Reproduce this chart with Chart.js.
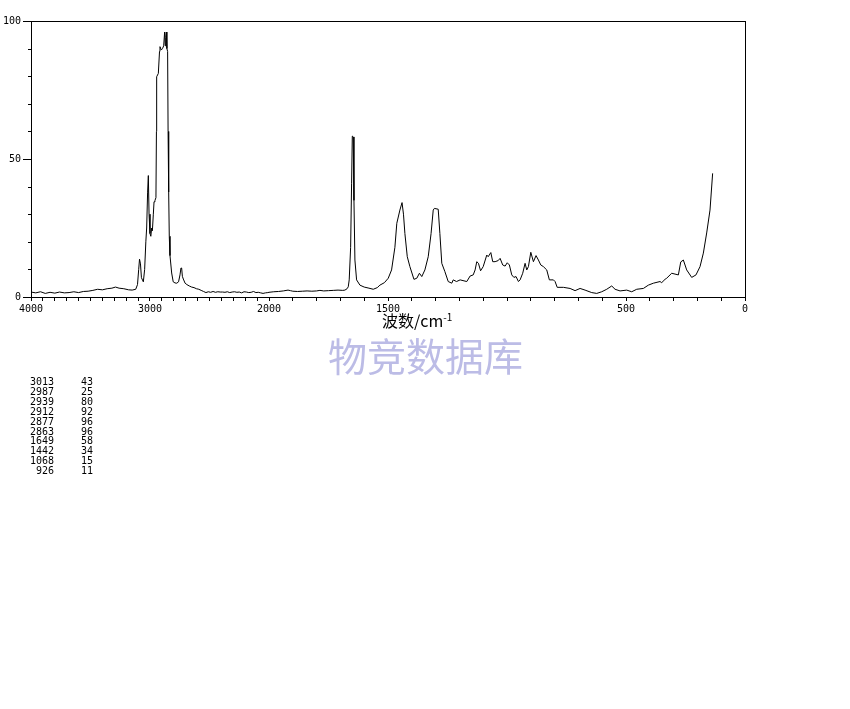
<!DOCTYPE html>
<html>
<head>
<meta charset="utf-8">
<title>Raman spectrum</title>
<script src="https://cdn.jsdelivr.net/npm/chart.js@4/dist/chart.umd.min.js"></script>
<style>
  body { margin: 0; background: #fff; }
  #wrap { position: relative; width: 850px; height: 709px; }
  #axis-title { position: absolute; left: 382px; top: 312px; font: 16px/16px "Noto Sans CJK SC", sans-serif; color: #000; white-space: nowrap; }
  #axis-title sup { font-size: 10px; vertical-align: 6px; line-height: 0; }
  #watermark { position: absolute; left: 328px; top: 334px; font: 39px/40px "Noto Sans CJK SC", sans-serif; color: #bcbce6; white-space: nowrap; }
  #peaks { position: absolute; left: 20px; top: 377px; font: 10px/9.9px "DejaVu Sans Mono", monospace; color: #000; }
  #peaks span { display: inline-block; text-align: right; }
  #peaks .w { width: 34px; }
  #peaks .v { width: 39px; }
</style>
</head>
<body>
<div id="wrap">
  <canvas id="spectrum" width="850" height="709"></canvas>
  <div id="axis-title">波数/cm<sup>-1</sup></div>
  <div id="watermark">物竞数据库</div>
  <div id="peaks"></div>
</div>
<script>
// wavenumbers (cm-1), high to low
const wavenumbers = [
  4000, 3960, 3920, 3880, 3840, 3800, 3760, 3720, 3680, 3640, 3600, 3560, 3520, 3480, 3440, 3400,
  3360, 3320, 3290, 3260, 3220, 3180, 3150, 3120, 3105, 3095, 3088, 3080, 3072, 3056, 3045, 3035,
  3028, 3020, 3014, 3008, 3000, 2993, 2986, 2980, 2972, 2966, 2958, 2950, 2946, 2944, 2930, 2920,
  2916, 2905, 2895, 2885, 2877, 2872, 2868, 2863, 2858, 2852, 2848, 2843, 2838, 2832, 2818, 2805,
  2790, 2775, 2760, 2748, 2740, 2734, 2728, 2720, 2705, 2690, 2670, 2650, 2630, 2610, 2590, 2570,
  2550, 2530, 2510, 2490, 2470, 2450, 2430, 2410, 2390, 2370, 2350, 2330, 2310, 2290, 2270, 2250,
  2230, 2210, 2190, 2170, 2150, 2130, 2110, 2090, 2070, 2050, 2030, 2010, 2000, 1980, 1960, 1940,
  1920, 1910, 1900, 1880, 1860, 1840, 1820, 1800, 1786, 1770, 1750, 1730, 1710, 1690, 1681, 1672,
  1667, 1663, 1657, 1653, 1650, 1646, 1643, 1639, 1632, 1618, 1600, 1580, 1562, 1545, 1534, 1515,
  1499, 1485, 1471, 1463, 1450, 1441, 1435, 1429, 1419, 1408, 1391, 1379, 1368, 1358, 1345, 1331,
  1319, 1310, 1305, 1289, 1282, 1274, 1261, 1247, 1232, 1226, 1212, 1197, 1169, 1155, 1142, 1134,
  1127, 1120, 1111, 1100, 1085, 1079, 1068, 1060, 1050, 1037, 1029, 1018, 1008, 999, 990, 980,
  971, 962, 952, 945, 934, 924, 917, 910, 900, 889, 878, 868, 858, 847, 833, 822,
  805, 798, 789, 763, 735, 714, 693, 672, 644, 623, 602, 581, 560, 546, 525, 497,
  476, 455, 427, 406, 385, 357, 350, 336, 329, 315, 308, 294, 280, 270, 259, 245,
  224, 206, 189, 175, 161, 147, 136
];
// intensity, same order
const intensities = [
  1.8, 1.5, 1.9, 1.3, 1.7, 1.4, 1.8, 1.5, 1.6, 1.9, 1.6, 2.0, 2.1, 2.4, 2.8, 2.6,
  3.0, 3.2, 3.6, 3.2, 3.0, 2.6, 2.5, 2.8, 4.5, 10, 13.7, 12, 7, 5.5, 10, 20,
  25, 38, 44, 30, 23, 22, 25, 24, 30, 34.5, 35, 36, 60, 79.8, 81, 89,
  90.7, 89.5, 90, 91, 96, 91, 94, 96, 90, 89, 60, 38, 22, 15, 8.7, 5.5,
  5.1, 5, 5.5, 8, 10.5, 10.5, 7.5, 6.5, 5, 4.5, 4, 3.6, 3.4, 3.0, 2.8, 2.4,
  2.0, 1.6, 1.9, 1.7, 2.0, 1.7, 1.9, 1.8, 1.8, 1.7, 1.9, 1.6, 1.8, 1.9, 1.7, 1.8,
  1.5, 1.9, 1.8, 1.6, 1.7, 2.0, 1.6, 1.7, 1.5, 1.3, 1.5, 1.6, 1.7, 1.9, 2.0, 2.2,
  2.5, 2.3, 2.1, 2.0, 2.1, 2.2, 2.1, 2.2, 2.4, 2.2, 2.3, 2.4, 2.5, 2.4, 2.5, 3.0,
  3.7, 6.2, 18, 41, 58.3, 58, 35, 13.4, 6.2, 4.3, 3.6, 3.2, 2.8, 3.4, 4.3, 5.2,
  6.8, 9.8, 18, 26.7, 31.5, 34.2, 30, 23, 14.6, 11, 6.4, 6.8, 8.6, 7.4, 9.8, 14.6,
  23, 31.5, 32.1, 31.8, 23, 12.2, 9.2, 5.6, 5.0, 6.2, 5.6, 6.2, 5.6, 7.6, 8.0, 9.8,
  12.8, 12.2, 9.5, 11, 15.2, 14.6, 16.1, 12.8, 12.8, 13.2, 14, 11.6, 11.2, 12.4, 11.6, 8,
  7.1, 7.4, 5.6, 6.2, 8.6, 12.2, 9.8, 11, 16.2, 12.8, 15, 13.4, 11.6, 11, 9.8, 6.2,
  6.2, 5.6, 3.5, 3.5, 3.1, 2.3, 3.1, 2.5, 1.6, 1.3, 1.9, 2.8, 4.0, 2.8, 2.2, 2.5,
  1.9, 2.8, 3.1, 4.3, 5.0, 5.6, 5.2, 6.4, 6.8, 8.0, 8.6, 8.3, 8, 12.7, 13.4, 9.8,
  7.1, 8, 11, 15.9, 23.2, 31.5, 44.8
];

const xTickValues = [];
for (let v = 0; v <= 4000; v += 100) xTickValues.push(v);
const xTickLabels = [4000, 3000, 2000, 1500, 500, 0];
const yTickLabels = [0, 50, 100];
const yMinorTicks = [10, 20, 30, 40, 60, 70, 80, 90];

const peakWavenumbers = [3013, 2987, 2939, 2912, 2877, 2863, 1649, 1442, 1068, 926];
const peakIntensities = [43, 25, 80, 92, 96, 96, 58, 34, 15, 11];

// x axis is squeezed above 2000 cm-1 (half the scale of the lower part)
function squeeze(w) {
  return w <= 2000 ? w : 2000 + (w - 2000) / 2;
}
function unsqueeze(t) {
  return t <= 2000 ? t : 2000 + (t - 2000) * 2;
}

class SplitScale extends Chart.LinearScale {
  getPixelForValue(value) {
    return this.getPixelForDecimal(1 - squeeze(value) / 3000);
  }
  getValueForPixel(pixel) {
    return unsqueeze((1 - this.getDecimalForPixel(pixel)) * 3000);
  }
}
SplitScale.id = 'split';
SplitScale.defaults = Chart.LinearScale.defaults;
Chart.register(SplitScale);

const framePlugin = {
  id: 'frame',
  afterDraw(chart) {
    const ctx = chart.ctx;
    const area = chart.chartArea;
    const y = chart.scales.y;
    ctx.save();
    ctx.strokeStyle = '#000';
    ctx.lineWidth = 1;
    ctx.strokeRect(Math.round(area.left) + 0.5, Math.round(area.top) + 0.5,
      Math.round(area.right - area.left), Math.round(area.bottom - area.top));
    // short minor ticks on the y axis
    ctx.beginPath();
    yMinorTicks.forEach(v => {
      const py = Math.round(y.getPixelForValue(v)) + 0.5;
      ctx.moveTo(area.left - 3, py);
      ctx.lineTo(area.left, py);
    });
    ctx.stroke();
    ctx.restore();
  }
};

document.addEventListener('DOMContentLoaded', () => {
  const peaksEl = document.getElementById('peaks');
  peakWavenumbers.forEach((w, i) => {
    const row = document.createElement('div');
    row.innerHTML = `<span class="w">${w}</span><span class="v">${peakIntensities[i]}</span>`;
    peaksEl.appendChild(row);
  });

  const ctx = document.getElementById('spectrum').getContext('2d');
  new Chart(ctx, {
    type: 'line',
    data: {
      datasets: [{
        data: wavenumbers.map((w, i) => ({ x: w, y: intensities[i] })),
        borderColor: '#000',
        borderWidth: 1,
        pointRadius: 0,
        tension: 0,
        fill: false
      }]
    },
    options: {
      responsive: false,
      animation: false,
      layout: { padding: { top: 21, right: 105, left: 0, bottom: 0 } },
      plugins: { legend: { display: false }, tooltip: { enabled: false } },
      scales: {
        x: {
          type: 'split',
          min: 0,
          max: 4000,
          afterBuildTicks: axis => { axis.ticks = xTickValues.map(v => ({ value: v })); },
          afterFit: axis => { axis.height = 412; },
          border: { color: '#000', width: 1 },
          grid: { drawOnChartArea: false, tickLength: 4, color: '#000', tickColor: '#000' },
          ticks: {
            autoSkip: false,
            maxRotation: 0,
            padding: 2,
            color: '#000',
            font: { family: 'DejaVu Sans Mono', size: 10 },
            callback: v => xTickLabels.includes(v) ? String(v) : ''
          }
        },
        y: {
          min: 0,
          max: 100,
          afterBuildTicks: axis => { axis.ticks = yTickLabels.map(v => ({ value: v })); },
          afterFit: axis => { axis.width = 31; },
          border: { color: '#000', width: 1 },
          grid: { drawOnChartArea: false, tickLength: 8, color: '#000', tickColor: '#000' },
          ticks: {
            padding: 2,
            color: '#000',
            font: { family: 'DejaVu Sans Mono', size: 10 }
          }
        }
      }
    },
    plugins: [framePlugin]
  });
});
</script>
</body>
</html>
